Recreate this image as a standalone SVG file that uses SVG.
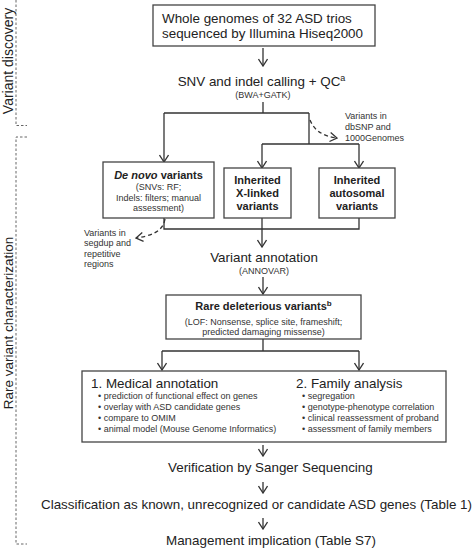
<svg xmlns="http://www.w3.org/2000/svg" width="474" height="548" viewBox="0 0 474 548">
<style>
text{font-family:"Liberation Sans",Arial,sans-serif;fill:#222}
.big{font-size:13.4px}
.sm{font-size:9px;fill:#333}
.b{font-size:11px;font-weight:bold;fill:#222}
.box{fill:#fff;stroke:#444;stroke-width:1.3}
.ln{fill:none;stroke:#333;stroke-width:1.3}
.dl{fill:none;stroke:#333;stroke-width:1.3;stroke-dasharray:4,3}
.br{fill:none;stroke:#666;stroke-width:1;stroke-dasharray:2.5,2}
.mid{text-anchor:middle}
</style>
<defs>
<marker id="ar" markerUnits="userSpaceOnUse" markerWidth="10" markerHeight="10" viewBox="0 0 10 10" refX="9" refY="5" orient="auto">
<path d="M2,0.5 L9,5 L2,9.5" fill="none" stroke="#333" stroke-width="1.3"/>
</marker>
</defs>

<g id="brackets">
<path class="br" d="M16,0 L16,125.5 L27,125.5"/>
<path class="br" d="M27,137 L16,137 L16,544 L27,544"/>
<text class="mid" font-size="14" transform="translate(12.5,61) rotate(-90)">Variant discovery</text>
<text class="mid" font-size="13.5" transform="translate(12.5,323) rotate(-90)">Rare variant characterization</text>
</g>

<g id="connectors">
<path class="ln" d="M263,48 L263,66" marker-end="url(#ar)"/>
<path class="ln" d="M263,102 L263,113 M164,113 L309,113 M309,113 L309,144 M262,144 L359,144"/>
<path class="ln" d="M164,113 L164,162" marker-end="url(#ar)"/>
<path class="ln" d="M262,144 L262,168" marker-end="url(#ar)"/>
<path class="ln" d="M359,144 L359,168" marker-end="url(#ar)"/>
<path class="dl" d="M310,120 C314,130 322,136 337,138" marker-end="url(#ar)"/>
<path class="ln" d="M164,218 L164,229 L359,229 L359,218"/>
<path class="ln" d="M262,218 L262,247" marker-end="url(#ar)"/>
<path class="dl" d="M165,219 C163,232 150,236 136,238" marker-end="url(#ar)"/>
<path class="ln" d="M263,277 L263,294" marker-end="url(#ar)"/>
<path class="ln" d="M263,339 L263,351 M162,351 L359,351"/>
<path class="ln" d="M162,351 L162,370" marker-end="url(#ar)"/>
<path class="ln" d="M359,351 L359,370" marker-end="url(#ar)"/>
<path class="ln" d="M263,445 L263,456" marker-end="url(#ar)"/>
<path class="ln" d="M263,482 L263,493" marker-end="url(#ar)"/>
<path class="ln" d="M263,518 L263,529" marker-end="url(#ar)"/>
</g>

<g id="n-wgs">
<rect class="box" x="153" y="5" width="222" height="41"/>
<text class="big" x="162" y="22.5">Whole genomes of 32 ASD trios</text>
<text class="big" x="162" y="38">sequenced by Illumina Hiseq2000</text>
</g>

<g id="n-calling">
<text class="big mid" x="261.5" y="86">SNV and indel calling + QC<tspan font-size="9" dy="-5">a</tspan></text>
<text class="sm mid" font-size="8.5" x="263" y="97.5">(BWA+GATK)</text>
</g>

<g id="n-dbsnp">
<text class="sm" font-size="8.7" x="345" y="119">Variants in</text>
<text class="sm" font-size="8.7" x="345" y="130">dbSNP and</text>
<text class="sm" font-size="8.7" x="345" y="141">1000Genomes</text>
</g>

<g id="n-denovo">
<rect class="box" x="103" y="162" width="111" height="56"/>
<text class="b mid" x="158.5" y="178.5"><tspan font-style="italic">De novo</tspan> variants</text>
<text class="sm mid" x="158.5" y="190.3">(SNVs: RF;</text>
<text class="sm mid" x="158.5" y="200.6">Indels: filters; manual</text>
<text class="sm mid" x="158.5" y="210.9">assessment)</text>
</g>

<g id="n-xlinked">
<rect class="box" x="224" y="168" width="67" height="50"/>
<text class="b mid" x="257.5" y="184">Inherited</text>
<text class="b mid" x="257.5" y="197">X-linked</text>
<text class="b mid" x="257.5" y="210.3">variants</text>
</g>

<g id="n-autosomal">
<rect class="box" x="319" y="168" width="76" height="50"/>
<text class="b mid" x="357" y="184">Inherited</text>
<text class="b mid" x="357" y="197">autosomal</text>
<text class="b mid" x="357" y="210.3">variants</text>
</g>

<g id="n-segdup">
<text class="sm" font-size="8.7" x="84" y="235.5">Variants in</text>
<text class="sm" font-size="8.7" x="84" y="246">segdup and</text>
<text class="sm" font-size="8.7" x="84" y="256.5">repetitive</text>
<text class="sm" font-size="8.7" x="84" y="267">regions</text>
</g>

<g id="n-annotation">
<text class="big mid" x="264" y="261.7">Variant annotation</text>
<text class="sm mid" x="264" y="274">(ANNOVAR)</text>
</g>

<g id="n-rare">
<rect class="box" x="166" y="295" width="195" height="44"/>
<text class="b mid" font-size="12" x="263.5" y="310.3">Rare deleterious variants<tspan font-size="8" dy="-4">b</tspan></text>
<text class="sm mid" x="263.5" y="324.5">(LOF: Nonsense, splice site, frameshift;</text>
<text class="sm mid" x="263.5" y="335">predicted damaging missense)</text>
</g>

<g id="n-analysis">
<rect class="box" x="82" y="371" width="364" height="71"/>
<text class="big" x="91" y="387.5">1. Medical annotation</text>
<text class="sm" x="98" y="399">• prediction of functional effect on genes</text>
<text class="sm" x="98" y="409.9">• overlay with ASD candidate genes</text>
<text class="sm" x="98" y="420.8">• compare to OMIM</text>
<text class="sm" x="98" y="431.7">• animal model (Mouse Genome Informatics)</text>
<text class="big" x="296" y="387.5">2. Family analysis</text>
<text class="sm" x="302" y="399">• segregation</text>
<text class="sm" x="302" y="409.9">• genotype-phenotype correlation</text>
<text class="sm" x="302" y="420.8">• clinical reassessment of proband</text>
<text class="sm" x="302" y="431.7">• assessment of family members</text>
</g>

<g id="n-verification">
<text class="big" x="168" y="471.7">Verification by Sanger Sequencing</text>
</g>

<g id="n-classification">
<text class="big" x="41" y="508.5">Classification as known, unrecognized or candidate ASD genes (Table 1)</text>
</g>

<g id="n-management">
<text class="big" x="166" y="545">Management implication (Table S7)</text>
</g>
</svg>
